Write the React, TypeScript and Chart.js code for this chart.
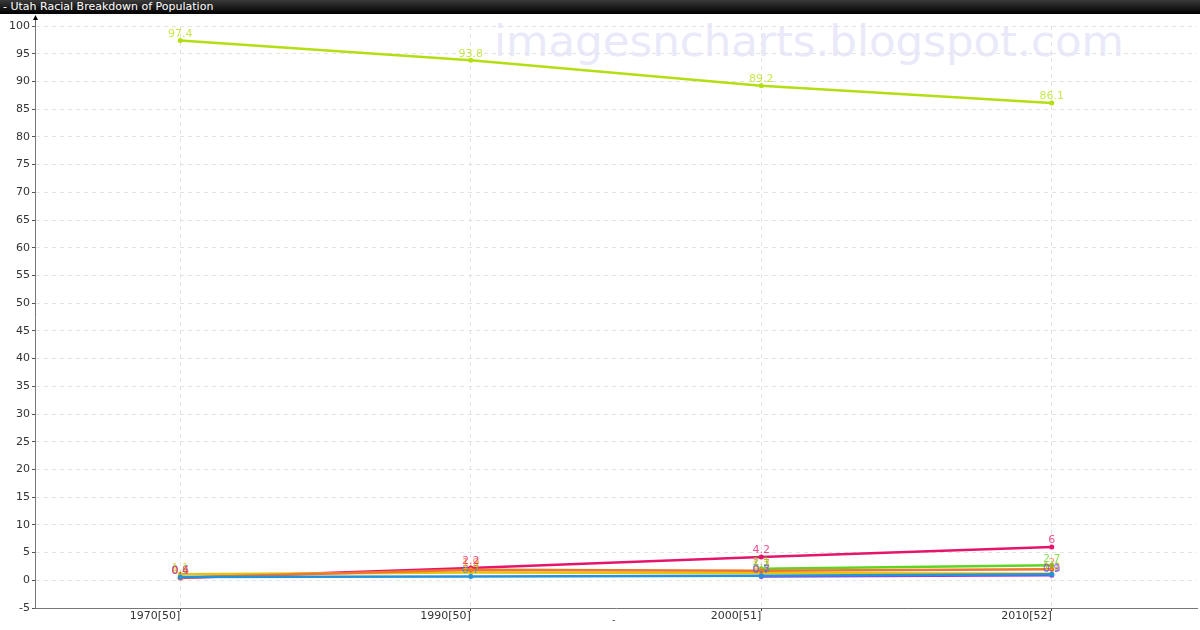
import React, { useEffect, useRef } from "react";
import { Chart, registerables } from "chart.js";

Chart.register(...registerables);

const categories = ["1970[50]", "1990[50]", "2000[51]", "2010[52]"];
const seriesNames = [
  "White",
  "Black",
  "Asian",
  "Native American",
  "Native Hawaiian and other Pacific Islander",
  "Other race",
  "Two or more races",
];
const white = [97.4, 93.8, 89.2, 86.1];
const black = [0.6, 0.7, 0.8, 1.1];
const asian = [0.5, 1.9, 1.7, 2.0];
const nativeAmerican = [1.1, 1.4, 1.3, 1.2];
const pacificIslander = [null, null, 0.7, 0.9];
const otherRace = [0.4, 2.2, 4.2, 6.0];
const twoOrMore = [null, null, 2.1, 2.7];
const seriesValues = [white, black, asian, nativeAmerican, pacificIslander, otherRace, twoOrMore];
const seriesColors = ["#b3de12", "#2592dc", "#f0762c", "#e6c40e", "#9d34e0", "#e6156c", "#5ed61f"];
const yTickMin = -5;
const yTickMax = 100;
const yTickStep = 5;

const FONT = "'DejaVu Sans', Verdana, sans-serif";

const valueLabels = {
  id: "valueLabels",
  afterDatasetsDraw(chart: any) {
    const ctx = chart.ctx;
    ctx.save();
    ctx.font = `11px ${FONT}`;
    ctx.textAlign = "center";
    ctx.textBaseline = "bottom";
    chart.data.datasets.forEach((ds: any, i: number) => {
      const meta = chart.getDatasetMeta(i);
      meta.data.forEach((pt: any, j: number) => {
        const v = ds.data[j];
        if (v === null || v === undefined) return;
        ctx.globalAlpha = 0.75;
        ctx.fillStyle = ds.borderColor;
        ctx.fillText(String(v), pt.x, pt.y - 1);
      });
    });
    ctx.restore();
  },
};

const axisArrow = {
  id: "axisArrow",
  afterDraw(chart: any) {
    const ctx = chart.ctx;
    const { left, top } = chart.chartArea;
    ctx.save();
    ctx.strokeStyle = "#666";
    ctx.lineWidth = 1;
    ctx.beginPath();
    ctx.moveTo(left + 0.5, top);
    ctx.lineTo(left + 0.5, top - 8);
    ctx.stroke();
    ctx.fillStyle = "#000";
    ctx.beginPath();
    ctx.moveTo(left + 0.5, top - 11);
    ctx.lineTo(left - 2, top - 6);
    ctx.lineTo(left + 3, top - 6);
    ctx.closePath();
    ctx.fill();
    ctx.restore();
  },
};

export default function App() {
  const ref = useRef<HTMLCanvasElement | null>(null);

  useEffect(() => {
    document.body.style.margin = "0";
    const canvas = ref.current;
    if (!canvas) return;
    const chart = new Chart(canvas, {
      type: "line",
      data: {
        labels: categories,
        datasets: seriesValues.map((vals, i) => ({
          label: seriesNames[i],
          data: vals as any,
          borderColor: seriesColors[i],
          backgroundColor: seriesColors[i],
          borderWidth: 2.5,
          pointRadius: 2.5,
          pointHoverRadius: 2.5,
          pointBorderWidth: 0,
          tension: 0,
          fill: false,
        })),
      },
      options: {
        animation: false,
        responsive: false,
        maintainAspectRatio: false,
        events: [],
        layout: { padding: { top: 26, right: 3, left: 0, bottom: 0 } },
        plugins: {
          legend: { display: false },
          tooltip: { enabled: false },
          title: { display: false },
        },
        scales: {
          x: {
            type: "category",
            offset: true,
            afterFit(scale: any) {
              scale.height = 22;
            },
            grid: {
              display: true,
              color: "#e4e4e4",
              tickColor: "#333",
              tickLength: 3,
              drawTicks: true,
            },
            border: { display: true, color: "#777", width: 1, dash: [4, 4] },
            ticks: {
              align: "end",
              color: "#333",
              font: { family: FONT, size: 11 },
              padding: -1,
              maxRotation: 0,
              autoSkip: false,
            },
          },
          y: {
            type: "linear",
            min: yTickMin,
            max: yTickMax,
            afterFit(scale: any) {
              scale.width = 35;
            },
            grid: {
              color: "#e4e4e4",
              tickColor: "#555",
              tickLength: 3,
            },
            border: { display: true, color: "#777", width: 1, dash: [4, 4] },
            ticks: {
              stepSize: yTickStep,
              color: "#333",
              font: { family: FONT, size: 11 },
              padding: 2,
            },
          },
        },
      },
      plugins: [valueLabels, axisArrow],
    });
    return () => chart.destroy();
  }, []);

  return (
    <div style={{ position: "relative", width: 1200, height: 630, overflow: "hidden", background: "#fff" }}>
      <div
        style={{
          position: "absolute",
          left: 0,
          top: 0,
          width: 1200,
          height: 14,
          background: "linear-gradient(#3a3a3a, #000)",
          color: "#fff",
          font: `11px ${FONT}`,
          lineHeight: "14px",
          paddingLeft: 3,
          boxSizing: "border-box",
          whiteSpace: "nowrap",
        }}
      >
        - Utah Racial Breakdown of Population
      </div>
      <div
        style={{
          position: "absolute",
          left: 494,
          top: 16,
          font: `43.5px ${FONT}`,
          color: "#e9e9f9",
          whiteSpace: "nowrap",
          pointerEvents: "none",
        }}
      >
        imagesncharts.blogspot.com
      </div>
      <canvas ref={ref} width={1200} height={630} style={{ position: "absolute", left: 0, top: 0, width: 1200, height: 630 }} />
      <div style={{ position: "absolute", left: 612, top: 614, font: `10px ${FONT}`, color: "#555" }}>-</div>
    </div>
  );
}
